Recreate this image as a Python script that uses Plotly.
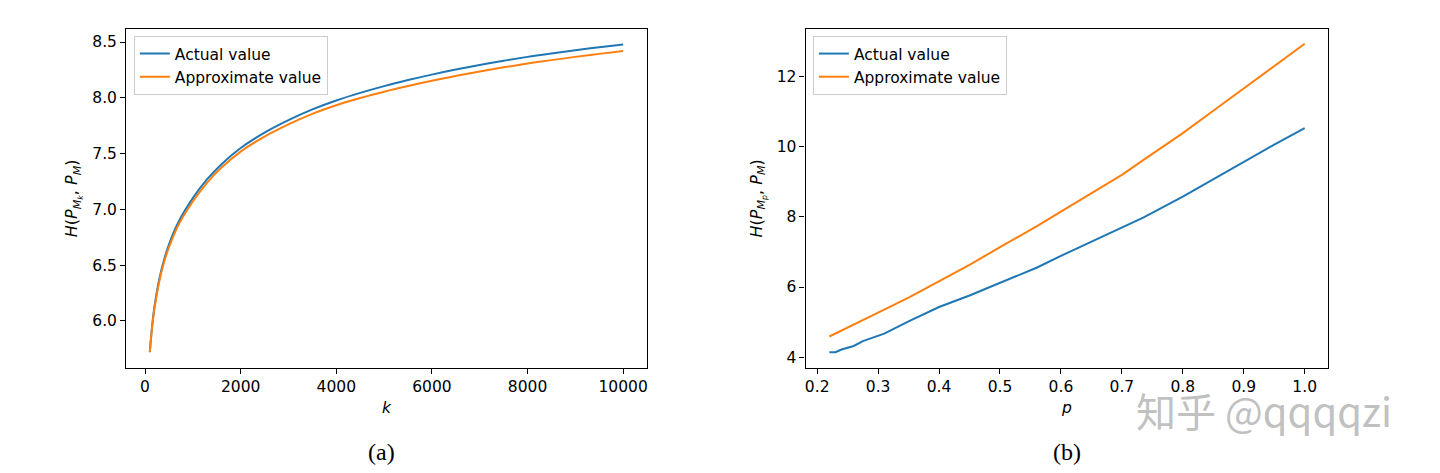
import plotly.graph_objects as go

# Panel (a): entropy vs k
k_vals = [100, 150, 200, 300, 400, 500, 700, 1000, 1300, 1600, 2000, 2500, 3000, 3500,
          4000, 4500, 5000, 5500, 6000, 6500, 7000, 7500, 8000, 8500, 9000, 9500, 10000]
a_actual = [5.72, 5.96, 6.134, 6.377, 6.55, 6.684, 6.886, 7.10, 7.27, 7.405, 7.55, 7.688, 7.80, 7.896,
            7.976, 8.044, 8.105, 8.159, 8.208, 8.253, 8.294, 8.332, 8.367, 8.398, 8.427, 8.454, 8.479]
a_approx = [5.72, 5.95, 6.119, 6.357, 6.53, 6.659, 6.861, 7.07, 7.24, 7.375, 7.518, 7.653, 7.762, 7.856,
            7.933, 7.998, 8.055, 8.106, 8.153, 8.196, 8.236, 8.273, 8.307, 8.338, 8.367, 8.394, 8.419]

# Panel (b): entropy vs p
p_actual_x = [0.22, 0.23, 0.24, 0.25, 0.26, 0.275, 0.29, 0.31, 0.35, 0.40, 0.45, 0.50, 0.56,
              0.60, 0.65, 0.70, 0.735, 0.80, 0.85, 0.90, 0.95, 1.00]
b_actual = [4.14, 4.14, 4.22, 4.27, 4.32, 4.46, 4.56, 4.67, 5.02, 5.43, 5.76, 6.11, 6.55,
            6.89, 7.30, 7.71, 7.98, 8.58, 9.08, 9.58, 10.06, 10.53]
p_approx_x = [0.22, 0.25, 0.30, 0.35, 0.40, 0.45, 0.50, 0.56, 0.60, 0.65, 0.70, 0.735,
              0.80, 0.85, 0.90, 0.95, 1.00]
b_approx = [4.59, 4.84, 5.27, 5.70, 6.16, 6.63, 7.14, 7.73, 8.15, 8.67, 9.20, 9.62,
            10.39, 11.03, 11.67, 12.30, 12.94]

series_names = ["Actual value", "Approximate value"]
colors = ["#1f77b4", "#ff7f0e"]

W, H = 1440, 473
OFF = 8  # page body margin


def px_x(v):
    return (v - OFF) / W


def px_y(v):
    return (H - (v - OFF)) / H


fig = go.Figure()
fig.add_trace(go.Scatter(x=k_vals, y=a_actual, mode="lines", name=series_names[0],
                         line=dict(color=colors[0], width=2, shape="spline", smoothing=1.0),
                         xaxis="x", yaxis="y", legend="legend"))
fig.add_trace(go.Scatter(x=k_vals, y=a_approx, mode="lines", name=series_names[1],
                         line=dict(color=colors[1], width=2, shape="spline", smoothing=1.0),
                         xaxis="x", yaxis="y", legend="legend"))
fig.add_trace(go.Scatter(x=p_actual_x, y=b_actual, mode="lines", name=series_names[0],
                         line=dict(color=colors[0], width=2), xaxis="x2", yaxis="y2", legend="legend2"))
fig.add_trace(go.Scatter(x=p_approx_x, y=b_approx, mode="lines", name=series_names[1],
                         line=dict(color=colors[1], width=2), xaxis="x2", yaxis="y2", legend="legend2"))

tickfont = dict(family="DejaVu Sans", size=15.5, color="black")
axis_common = dict(showline=True, linecolor="black", linewidth=1.2, mirror=True,
                   ticks="outside", ticklen=5, tickwidth=1.2, tickcolor="black",
                   showgrid=False, zeroline=False, tickfont=tickfont)

ydom = [px_y(367.7), px_y(29)]

fig.update_layout(
    width=W, height=H,
    margin=dict(l=0, r=0, t=0, b=0),
    paper_bgcolor="white", plot_bgcolor="white",
    font=dict(family="DejaVu Sans", size=15.5, color="black"),
    xaxis=dict(domain=[px_x(125.3), px_x(646.7)], range=[-395, 10495],
               tickvals=[0, 2000, 4000, 6000, 8000, 10000],
               ticktext=["0", "2000", "4000", "6000", "8000", "10000"],
               title=dict(text="<i>k</i>", font=dict(size=15.5), standoff=6), anchor="y", **axis_common),
    yaxis=dict(domain=ydom, range=[5.58, 8.617], tickvals=[6.0, 6.5, 7.0, 7.5, 8.0, 8.5],
               ticktext=["6.0", "6.5", "7.0", "7.5", "8.0", "8.5"],
               title=dict(text="<i>H</i>(<i>P</i><sub><i>M<sub>k</sub></i></sub>, <i>P</i><sub><i>M</i></sub>)",
                          font=dict(size=16), standoff=10), anchor="x", **axis_common),
    xaxis2=dict(domain=[px_x(805.7), px_x(1329.3)], range=[0.181, 1.039],
                tickvals=[0.2, 0.3, 0.4, 0.5, 0.6, 0.7, 0.8, 0.9, 1.0],
                ticktext=["0.2", "0.3", "0.4", "0.5", "0.6", "0.7", "0.8", "0.9", "1.0"],
                title=dict(text="<i>p</i>", font=dict(size=15.5), standoff=6), anchor="y2", **axis_common),
    yaxis2=dict(domain=ydom, range=[3.70, 13.36], tickvals=[4, 6, 8, 10, 12],
                title=dict(text="<i>H</i>(<i>P</i><sub><i>M<sub>p</sub></i></sub>, <i>P</i><sub><i>M</i></sub>)",
                           font=dict(size=16), standoff=10), anchor="x2", **axis_common),
    legend=dict(x=px_x(133), y=px_y(36), xanchor="left", yanchor="top",
                bgcolor="rgba(255,255,255,0.8)", bordercolor="#cccccc", borderwidth=1,
                font=dict(family="DejaVu Sans", size=15.5), tracegroupgap=0, itemwidth=30),
    legend2=dict(x=px_x(813), y=px_y(36), xanchor="left", yanchor="top",
                 bgcolor="rgba(255,255,255,0.8)", bordercolor="#cccccc", borderwidth=1,
                 font=dict(family="DejaVu Sans", size=15.5), tracegroupgap=0, itemwidth=30),
    showlegend=True,
)

fig.add_annotation(text="(a)", x=px_x(381), y=px_y(452), xref="paper", yref="paper",
                   showarrow=False, font=dict(family="Liberation Serif", size=24, color="black"),
                   xanchor="center", yanchor="middle")
fig.add_annotation(text="(b)", x=px_x(1067), y=px_y(452), xref="paper", yref="paper",
                   showarrow=False, font=dict(family="Liberation Serif", size=24, color="black"),
                   xanchor="center", yanchor="middle")
fig.add_annotation(text="知乎 @qqqqzi", x=px_x(1265), y=px_y(410), xref="paper", yref="paper",
                   showarrow=False, font=dict(family="Noto Sans CJK SC", size=40, color="rgba(165,165,165,0.7)"),
                   xanchor="center", yanchor="middle")

fig.write_html("out.html")
